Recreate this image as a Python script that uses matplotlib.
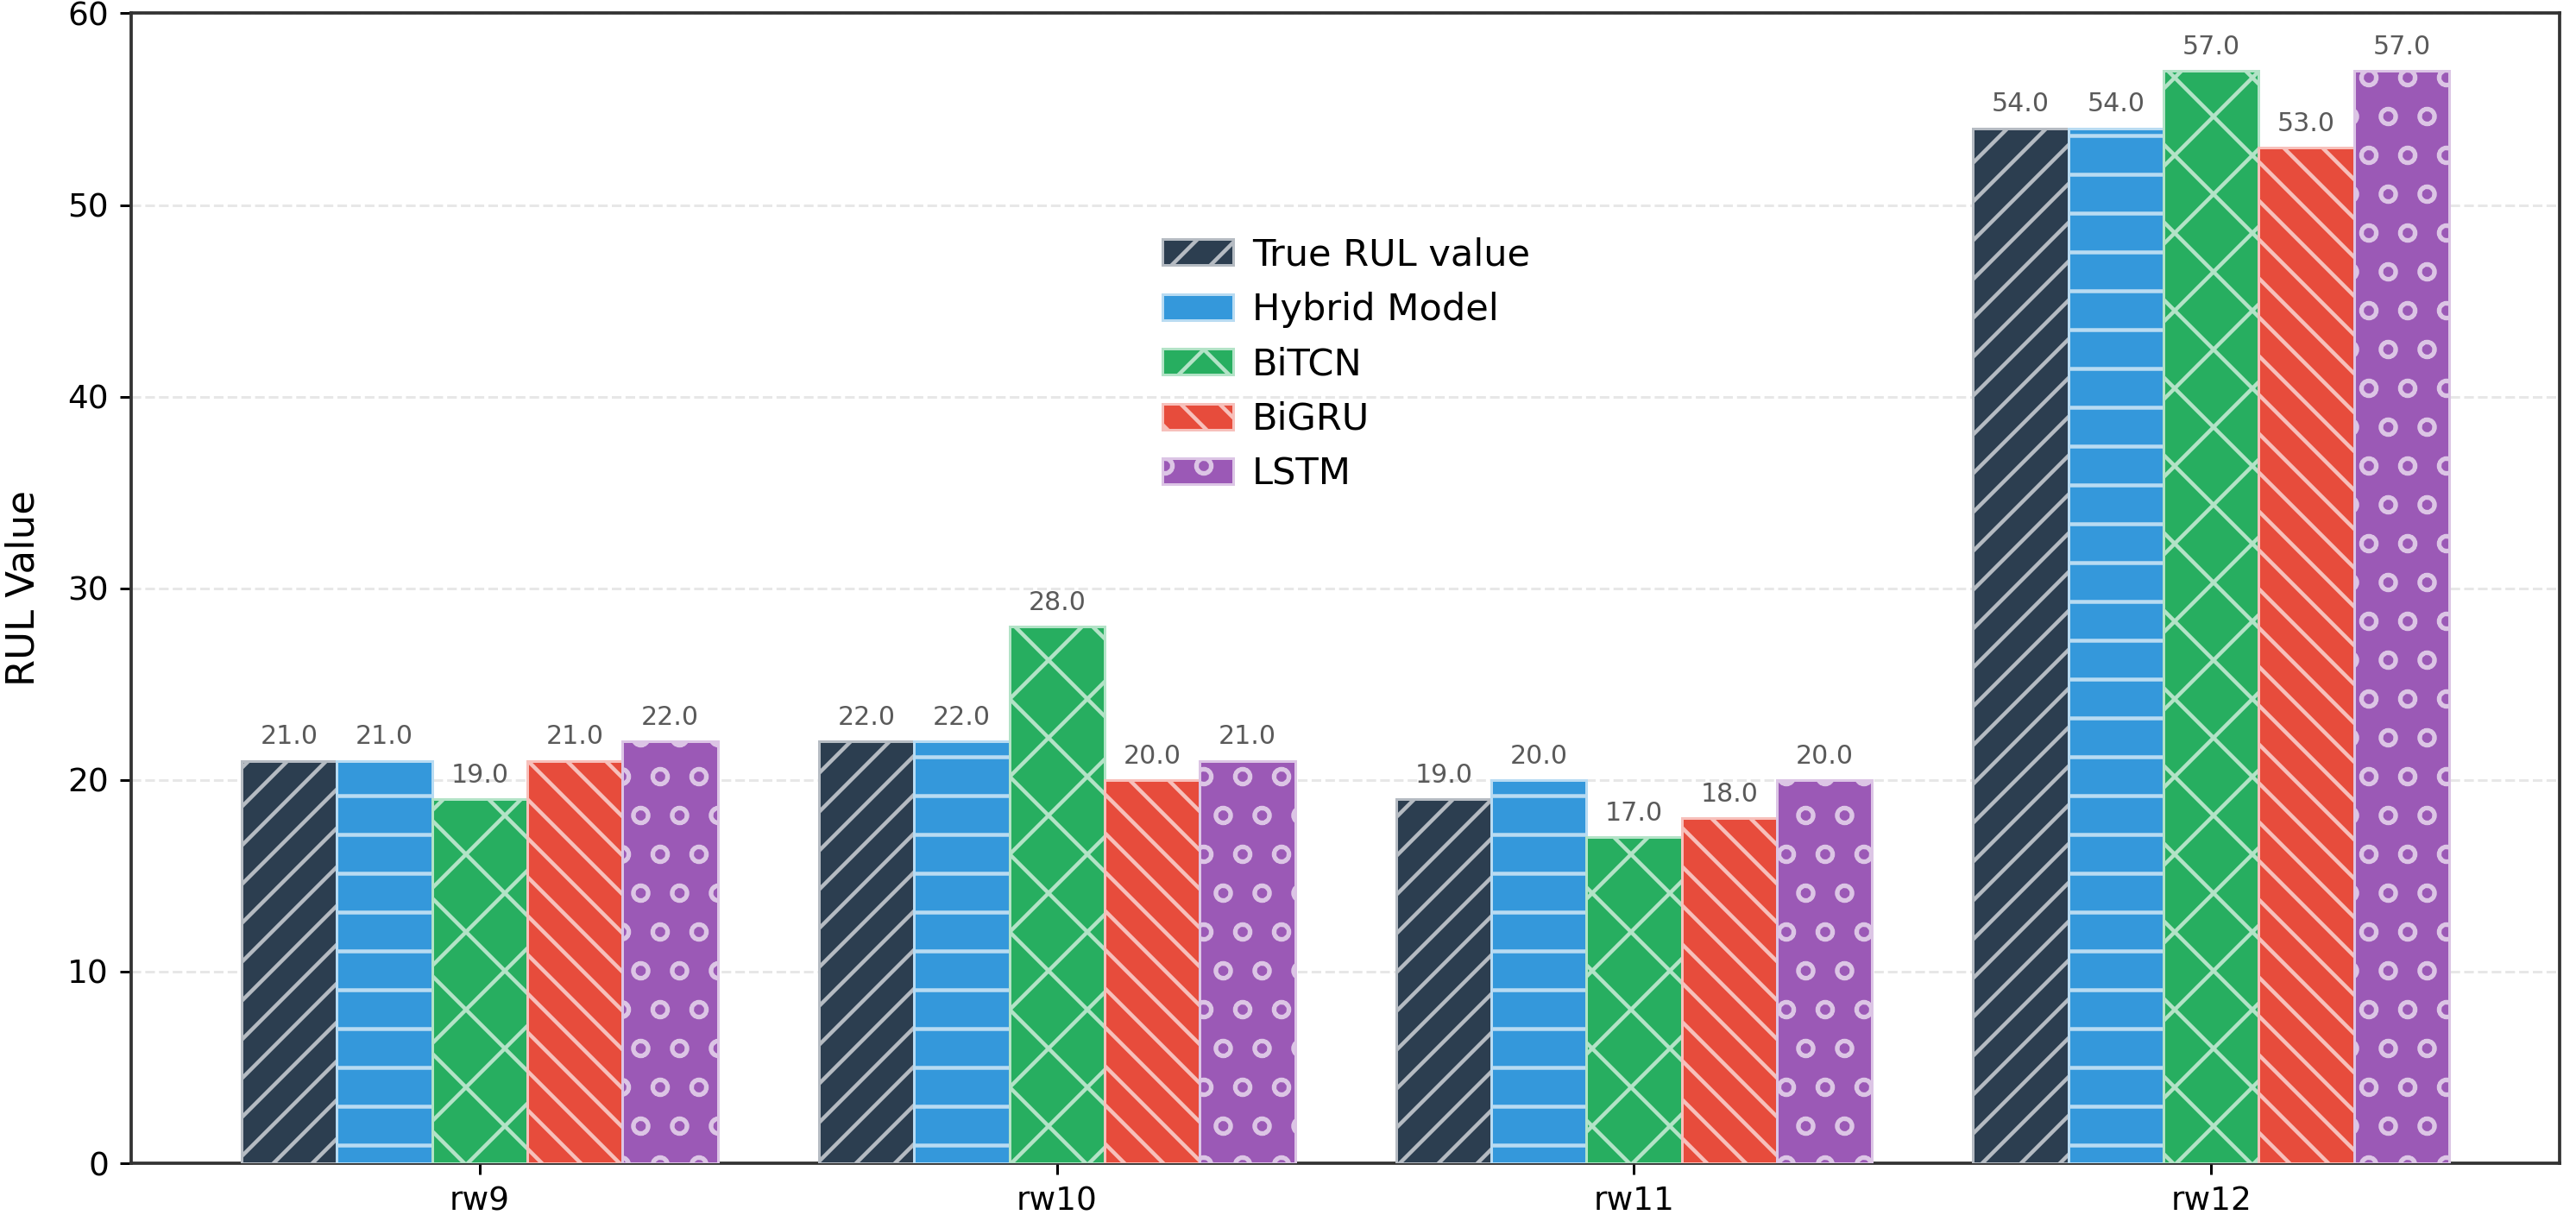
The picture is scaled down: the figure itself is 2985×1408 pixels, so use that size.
import matplotlib.pyplot as plt
import numpy as np
from matplotlib.colors import to_rgb

# data
datasets = ['rw9', 'rw10', 'rw11', 'rw12']
true_rul = [21.0, 22.0, 19.0, 54.0]
hybrid = [21.0, 22.0, 20.0, 54.0]
bitcn = [19.0, 28.0, 17.0, 57.0]
bigru = [21.0, 20.0, 18.0, 53.0]
lstm = [22.0, 21.0, 20.0, 57.0]

series_names = ['True RUL value', 'Hybrid Model', 'BiTCN', 'BiGRU', 'LSTM']
colors = ['#2c3e50', '#3498db', '#27ae60', '#e74c3c', '#9b59b6']
hatches = ['//', '-', 'x', '\\\\', 'o']


def lighten(c, amount=0.65):
    r, g, b = to_rgb(c)
    return (r + (1 - r) * amount, g + (1 - g) * amount, b + (1 - b) * amount)


plt.rcParams['hatch.linewidth'] = 1.2

fig = plt.figure(figsize=(2985 / 270, 1408 / 270), dpi=270)
ax = fig.add_axes([0.051, 0.0426, 0.9426, 0.9464])

x = np.arange(len(datasets))
width = 0.165
all_series = [true_rul, hybrid, bitcn, bigru, lstm]

for i, (vals, name, col, h) in enumerate(zip(all_series, series_names, colors, hatches)):
    pos = x + (i - 2) * width
    bars = ax.bar(pos, vals, width, label=name, color=col, hatch=h,
                  edgecolor=lighten(col), linewidth=0.8, zorder=3)
    for b, v in zip(bars, vals):
        ax.text(b.get_x() + b.get_width() / 2, v + 0.6, f'{v:.1f}',
                ha='center', va='bottom', fontsize=8, color='#5a5a5a', zorder=4)

ax.set_ylim(0, 60)
ax.set_xticks(x)
ax.set_xticklabels(datasets, fontsize=10)
ax.tick_params(axis='y', labelsize=10)
ax.set_ylabel('RUL Value', fontsize=12, labelpad=8)
ax.grid(axis='y', linestyle='--', alpha=0.3, zorder=0)
for s in ax.spines.values():
    s.set_color('#333333')
    s.set_linewidth(1.0)

ax.legend(loc='upper left', bbox_to_anchor=(0.411, 0.835), fontsize=11.5,
          frameon=False, labelspacing=0.5, handlelength=1.9, handletextpad=0.5)

plt.savefig('out.png', dpi=270)
